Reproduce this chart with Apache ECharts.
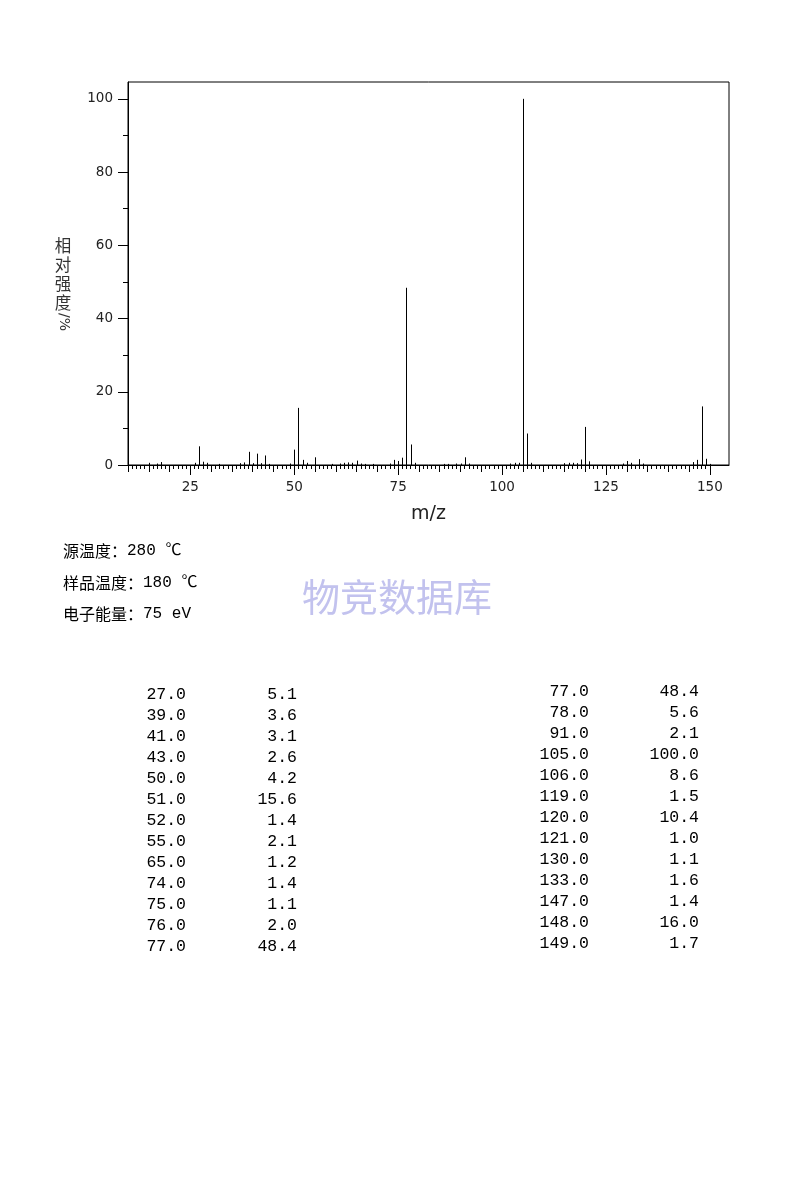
<!DOCTYPE html>
<html>
<head>
<meta charset="utf-8">
<script src="https://cdn.jsdelivr.net/npm/echarts@6/dist/echarts.min.js"></script>
<style>
html,body{margin:0;padding:0;background:#fff;}
#chart{width:794px;height:1191px;}
</style>
</head>
<body>
<div id="chart"></div>
<script>
// m/z values and relative intensities (%)
var peakMz  = [15, 17, 18, 26, 27, 28, 29, 32, 37, 38, 39, 40, 41, 42, 43, 44, 49, 50, 51, 52, 53, 55, 59,
               61, 62, 63, 64, 65, 66, 67, 69, 73, 74, 75, 76, 77, 78, 79, 86, 87, 89, 90, 91, 92,
               102, 103, 104, 105, 106, 107, 115, 116, 117, 118, 119, 120, 121, 129, 130, 131, 133, 134,
               146, 147, 148, 149, 150];
var peakInt = [0.6, 0.4, 0.8, 0.6, 5.1, 0.9, 0.6, 0.3, 0.5, 0.7, 3.6, 0.5, 3.1, 0.5, 2.6, 0.3, 0.4, 4.2, 15.6, 1.4, 0.6, 2.1, 0.3,
               0.4, 0.6, 0.7, 0.6, 1.2, 0.4, 0.3, 0.3, 0.4, 1.4, 1.1, 2.0, 48.4, 5.6, 0.6, 0.3, 0.3, 0.4, 0.4, 2.1, 0.4,
               0.4, 0.6, 0.6, 100.0, 8.6, 0.6, 0.5, 0.6, 0.6, 0.5, 1.5, 10.4, 1.0, 0.4, 1.1, 0.6, 1.6, 0.4,
               0.8, 1.4, 16.0, 1.7, 0.3];

// axis ticks / labels
var xLabelTicks = [25, 50, 75, 100, 125, 150];
var yLabelTicks = [0, 20, 40, 60, 80, 100];
var yMinorTicks = [10, 30, 50, 70, 90];
var xUnitTicks = [];
for (var t = 10; t <= 150; t++) { if (t % 5 !== 0) xUnitTicks.push(t); }
var xFiveTicks = [];
for (var t5 = 10; t5 <= 150; t5 += 5) { if (t5 % 25 !== 0) xFiveTicks.push(t5); }

// peak table
var tableLeftMz   = [27.0, 39.0, 41.0, 43.0, 50.0, 51.0, 52.0, 55.0, 65.0, 74.0, 75.0, 76.0, 77.0];
var tableLeftInt  = [5.1, 3.6, 3.1, 2.6, 4.2, 15.6, 1.4, 2.1, 1.2, 1.4, 1.1, 2.0, 48.4];
var tableRightMz  = [77.0, 78.0, 91.0, 105.0, 106.0, 119.0, 120.0, 121.0, 130.0, 133.0, 147.0, 148.0, 149.0];
var tableRightInt = [48.4, 5.6, 2.1, 100.0, 8.6, 1.5, 10.4, 1.0, 1.1, 1.6, 1.4, 16.0, 1.7];

// conditions
var infoLabels = ['源温度：', '样品温度：', '电子能量：'];
var infoValues = ['280 ℃', '180 ℃', '75 eV'];
var watermark = '物竞数据库';
var xName = 'm/z';
var yNameChars = '相\n对\n强\n度';
var yNameTail = '/%';

var chart = echarts.init(document.getElementById('chart'), null, {renderer: 'canvas'});

var X_MIN = 10, X_MAX = 154.6, Y_MIN = 0, Y_MAX = 104.6;
var tickFont = {color: '#222', fontSize: 13.5, fontFamily: 'DejaVu Sans'};

var graphics = [];
// y axis name
graphics.push({type: 'text', x: 63, y: 236, style: {text: yNameChars, fill: '#333', fontSize: 16.5, lineHeight: 19, fontFamily: 'Noto Sans CJK SC', align: 'center', verticalAlign: 'top'}, silent: true});
graphics.push({type: 'text', x: 64, y: 322, rotation: -Math.PI / 2, style: {text: yNameTail, fill: '#333', fontSize: 14, fontFamily: 'DejaVu Sans', align: 'center', verticalAlign: 'middle'}, silent: true});

// info lines
var infoY = [551, 583, 614];
infoLabels.forEach(function (t, i) {
  graphics.push({type: 'text', x: 63, y: infoY[i], style: {
    text: '{a|' + t + '}{b|' + infoValues[i] + '}',
    rich: {
      a: {fill: '#000', fontSize: 16, fontFamily: 'Noto Sans CJK SC'},
      b: {fill: '#000', fontSize: 16, fontFamily: 'Liberation Mono, Noto Sans CJK SC'}
    },
    fill: '#000', align: 'left', verticalAlign: 'middle'}, silent: true});
});
// watermark
graphics.push({type: 'text', x: 397, y: 597, style: {text: watermark, fill: '#c2c2ee', fontSize: 38, fontFamily: 'Noto Sans CJK SC', align: 'center', verticalAlign: 'middle'}, silent: true});

// table
var tableFont = 'Liberation Mono';
tableLeftMz.forEach(function (v, i) {
  var y = 695 + 21 * i;
  graphics.push({type: 'text', x: 186, y: y, style: {text: v.toFixed(1), fill: '#000', fontSize: 16.5, fontFamily: tableFont, align: 'right', verticalAlign: 'middle'}, silent: true});
  graphics.push({type: 'text', x: 297, y: y, style: {text: tableLeftInt[i].toFixed(1), fill: '#000', fontSize: 16.5, fontFamily: tableFont, align: 'right', verticalAlign: 'middle'}, silent: true});
});
tableRightMz.forEach(function (v, i) {
  var y = 692 + 21 * i;
  graphics.push({type: 'text', x: 589, y: y, style: {text: v.toFixed(1), fill: '#000', fontSize: 16.5, fontFamily: tableFont, align: 'right', verticalAlign: 'middle'}, silent: true});
  graphics.push({type: 'text', x: 699, y: y, style: {text: tableRightInt[i].toFixed(1), fill: '#000', fontSize: 16.5, fontFamily: tableFont, align: 'right', verticalAlign: 'middle'}, silent: true});
});

var peakData = peakMz.map(function (m, i) { return [m, peakInt[i]]; });

function tickAxis(values, len) {
  return {
    type: 'value', min: X_MIN, max: X_MAX, position: 'bottom',
    axisLine: {show: false, onZero: false},
    axisTick: {show: true, length: len, inside: false, customValues: values, lineStyle: {color: '#000'}},
    axisLabel: {show: false, customValues: values},
    splitLine: {show: false}
  };
}

var option = {
  backgroundColor: '#fff',
  animation: false,
  grid: {left: 128, right: 65, top: 82, bottom: 726, show: true, borderColor: '#000', borderWidth: 1, backgroundColor: 'transparent'},
  xAxis: [
    {
      type: 'value', min: X_MIN, max: X_MAX, position: 'bottom',
      name: xName, nameLocation: 'middle', nameGap: 40,
      nameTextStyle: {color: '#222', fontSize: 19, fontFamily: 'DejaVu Sans'},
      axisLine: {show: true, onZero: false, lineStyle: {color: '#000', width: 1}},
      axisTick: {show: true, length: 10, inside: false, customValues: xLabelTicks, lineStyle: {color: '#000'}},
      axisLabel: Object.assign({show: true, margin: 15, customValues: xLabelTicks}, tickFont),
      splitLine: {show: false}
    },
    tickAxis(xFiveTicks, 7),
    tickAxis(xUnitTicks, 4)
  ],
  yAxis: [
    {
      type: 'value', min: Y_MIN, max: Y_MAX, position: 'left',
      axisLine: {show: true, onZero: false, lineStyle: {color: '#000'}},
      axisTick: {show: true, length: 10, customValues: yLabelTicks, lineStyle: {color: '#000'}},
      axisLabel: Object.assign({show: true, margin: 15, customValues: yLabelTicks}, tickFont),
      splitLine: {show: false}
    },
    {
      type: 'value', min: Y_MIN, max: Y_MAX, position: 'left',
      axisLine: {show: false, onZero: false},
      axisTick: {show: true, length: 5, customValues: yMinorTicks, lineStyle: {color: '#000'}},
      axisLabel: {show: false, customValues: yMinorTicks},
      splitLine: {show: false}
    }
  ],
  series: [{
    type: 'custom',
    xAxisIndex: 0, yAxisIndex: 0,
    data: peakData,
    renderItem: function (params, api) {
      var p0 = api.coord([api.value(0), 0]);
      var p1 = api.coord([api.value(0), api.value(1)]);
      var x = Math.round(p0[0]) + 0.5;
      return {
        type: 'line',
        shape: {x1: x, y1: p0[1], x2: x, y2: p1[1]},
        style: {stroke: '#000', lineWidth: 1}
      };
    }
  }],
  graphic: graphics
};
chart.setOption(option);
</script>
</body>
</html>
